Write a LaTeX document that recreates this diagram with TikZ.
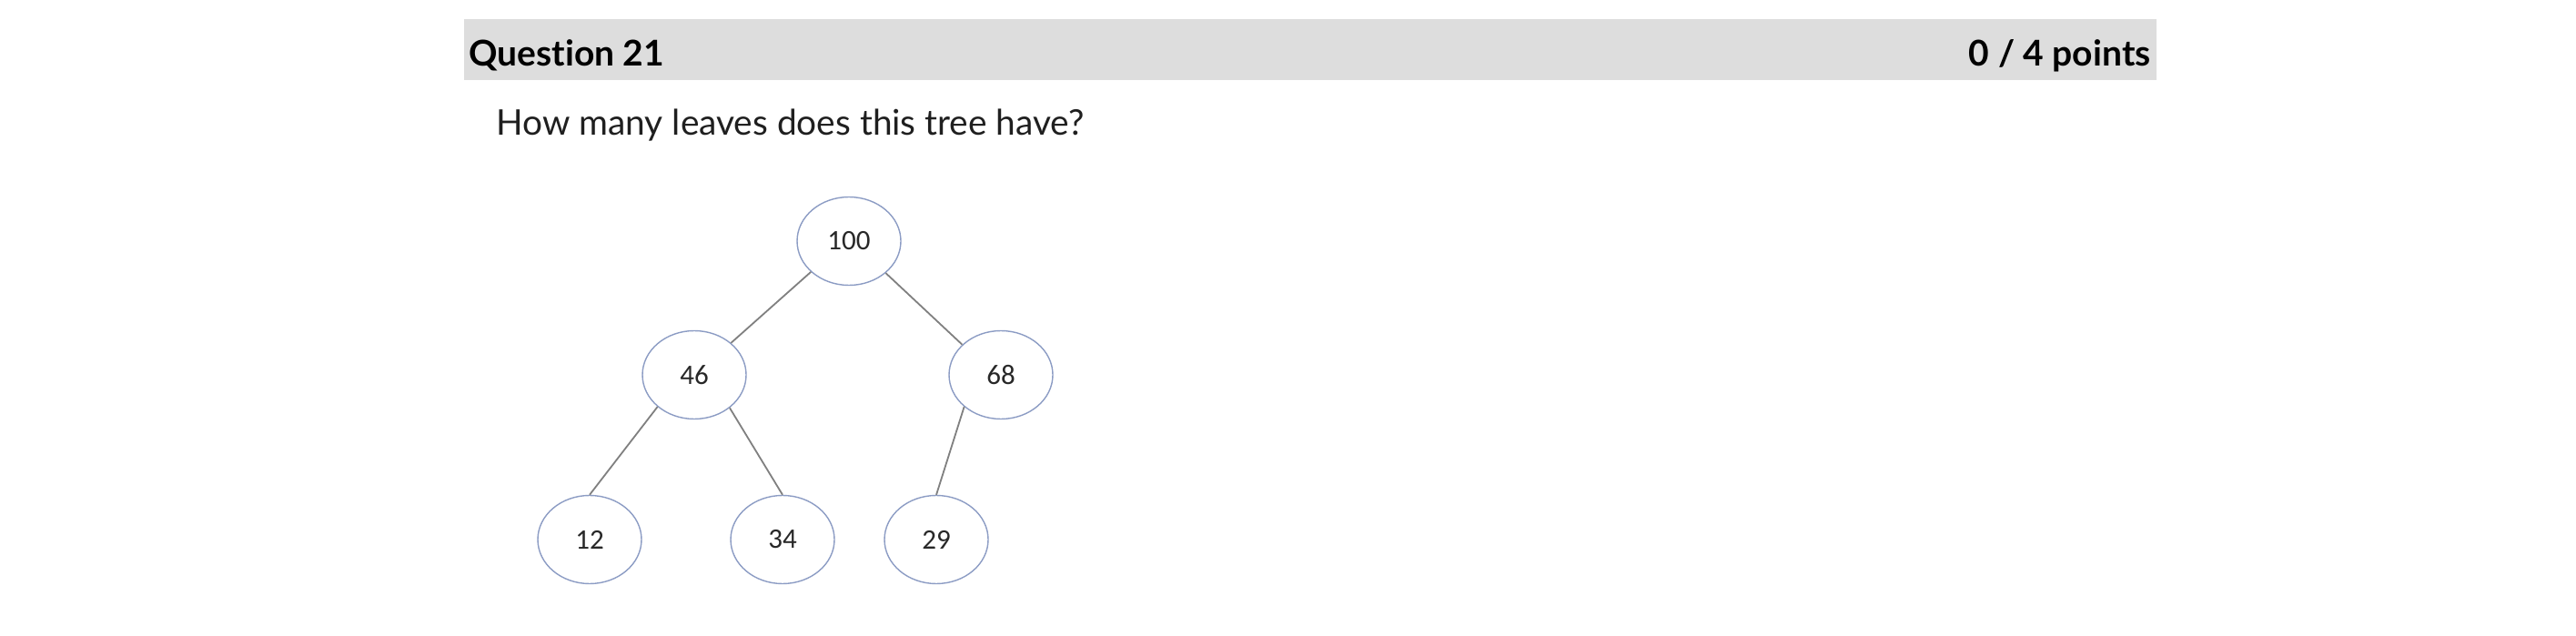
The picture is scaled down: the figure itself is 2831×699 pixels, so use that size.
\documentclass[tikz,border=0pt]{standalone}
\usepackage{fontspec}
\setmainfont{Lato}[RawFeature={-liga}]
\newfontfamily\nodefont{Carlito}
\usetikzlibrary{shapes.geometric}
\definecolor{barfill}{RGB}{221,221,221}
\definecolor{ringcol}{RGB}{140,156,196}
\definecolor{edgecol}{RGB}{128,128,128}
\definecolor{numcol}{RGB}{40,40,40}
\tikzset{
  treenode/.style={ellipse, draw=ringcol, line width=0.7pt, fill=white,
    minimum width=57pt, minimum height=48.5pt, inner sep=0pt,
    font=\nodefont\fontsize{15.5}{17}\selectfont, text=numcol},
  treeedge/.style={draw=edgecol, line width=0.9pt},
  headtext/.style={font=\bfseries\fontsize{19.5}{22}\selectfont, text=black, inner sep=0pt},
  bodytext/.style={font=\fontsize{19.4}{22}\selectfont, text=black!88, inner sep=0pt}
}
\begin{document}
\begin{tikzpicture}[x=0.5pt,y=-0.5pt]
\useasboundingbox[fill=white] (0,0) rectangle (2831,699);
\fill[barfill] (510,21) rectangle (2370,88);
\node[headtext, anchor=base west] (qtitle) at (515,73) {Question 21};
\node[headtext, anchor=base east] (qpoints) at (2364,73) {0 / 4 points};
\node[bodytext, anchor=base west] (qtext) at (545,149) {How many leaves does this tree have?};
\node[treenode] (n100) at (933,265) {100};
\node[treenode] (n46) at (763,412) {46};
\node[treenode] (n68) at (1100,412) {68};
\node[treenode] (n12) at (648,593) {12};
\node[treenode] (n34) at (860,593) {34};
\node[treenode] (n29) at (1029,593) {29};
\draw[treeedge] (n100.219) -- (n46.41);
\draw[treeedge] (n100.319) -- (n68.142);
\draw[treeedge] (n46.221) -- (n12.north);
\draw[treeedge] (n46.317) -- (n34.north);
\draw[treeedge] (n68.221) -- (n29.north);
\end{tikzpicture}
\end{document}
